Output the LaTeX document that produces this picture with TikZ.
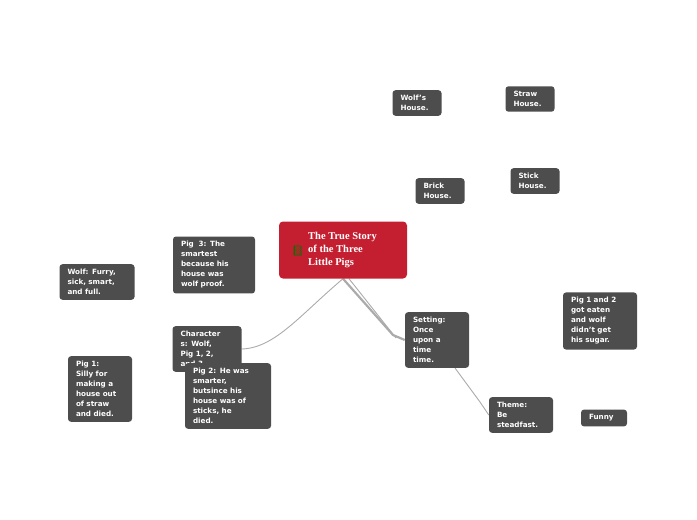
\documentclass[tikz,border=0pt]{standalone}
\usepackage{fontspec}
\usetikzlibrary{backgrounds}
\setmainfont{DejaVu Sans}
\newfontfamily\serifb{Liberation Serif}
\newfontfamily\emo{Noto Emoji}
\definecolor{boxc}{HTML}{4D4D4D}
\definecolor{rootc}{HTML}{C41F30}
\begin{document}
\begin{tikzpicture}[x=1pt,y=-1pt,
 box/.style={fill=boxc,text=white,rounded corners=3pt,font=\bfseries\fontsize{7.2}{10}\selectfont,align=left,inner xsep=8pt,inner ysep=5pt},
 link/.style={draw=black!33,line width=0.9pt}]
\useasboundingbox (0,0) rectangle (697,520);
\node[fill=rootc,rounded corners=4pt,minimum width=128pt,minimum height=57pt] (root) at (343,250) {};
\node[text=white,font=\serifb\bfseries\fontsize{10.5}{13}\selectfont,align=left,anchor=west,inner sep=0pt] (rt) at (308,250) {The True Story\\of the Three\\Little Pigs};
\node[text=green!45!black,font=\emo\fontsize{10}{10}\selectfont,inner sep=0pt] (ic) at (298,251) {📗};
\node[box,text width=33pt] (wh) at (417,103) {Wolf's\\House.};
\node[box,text width=33pt] (sh) at (530,99) {Straw\\House.};
\node[box,text width=33pt] (bh) at (440,191) {Brick\\House.};
\node[box,text width=33pt] (kh) at (535,181) {Stick\\House.};
\node[box,text width=66pt] (p3) at (214,265) {Pig\ \ 3: The\\smartest\\because his\\house was\\wolf proof.};
\node[box,text width=59pt] (wf) at (97,282) {Wolf: Furry,\\sick, smart,\\and full.};
\node[box,text width=53pt] (ch) at (207,349) {Character\\s: Wolf,\\Pig 1, 2,\\and 3.};
\node[box,text width=48pt] (p1) at (100,389) {Pig 1:\\Silly for\\making a\\house out\\of straw\\and died.};
\node[box,text width=70pt] (p2) at (228,396) {Pig 2: He was\\smarter,\\butsince his\\house was of\\sticks, he\\died.};
\node[box,text width=48pt] (st) at (437,340) {Setting:\\Once\\upon a\\time\\time.};
\node[box,text width=58pt] (pq) at (600,321) {Pig 1 and 2\\got eaten\\and wolf\\didn't get\\his sugar.};
\node[box,text width=48pt] (th) at (521,415) {Theme:\\Be\\steadfast.};
\node[box,text width=30pt] (fu) at (604,418) {Funny};
\begin{scope}[on background layer]
\draw[link] (root.south) .. controls (300,315) and (275,348) .. (ch.east |- 0,349);
\draw[link,line width=2.2pt] (root.south) -- (393,335) -- (st.west);
\draw[link] (root.south) ++(6,0) -- (396,338);
\draw[link] (st.south) ++(18,0) -- (480,402) -- (th.west);
\end{scope}
\end{tikzpicture}
\end{document}
